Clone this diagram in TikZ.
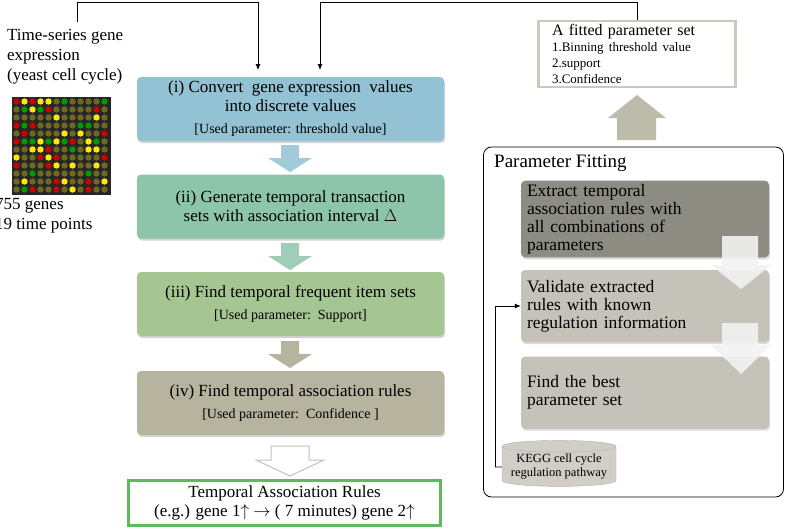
\documentclass[tikz,border=0pt]{standalone}
\usepackage{fontspec}
\setmainfont{Liberation Serif}
\usetikzlibrary{shapes.geometric,arrows.meta,shadows}
\definecolor{bi}{HTML}{92C2D3}
\definecolor{bii}{HTML}{8DC5AA}
\definecolor{biii}{HTML}{A5C693}
\definecolor{biv}{HTML}{B6B39E}
\definecolor{pd}{HTML}{8D8C82}
\definecolor{pl}{HTML}{C4C2B9}
\definecolor{fg}{HTML}{BDBBAA}
\begin{document}
\begin{tikzpicture}[x=1pt,y=-1pt,
  stepbox/.style={draw=none,rounded corners=4pt,minimum width=307pt,minimum height=64pt,align=center,font=\fontsize{17}{19}\selectfont,drop shadow={opacity=0.35,shadow xshift=1pt,shadow yshift=-2pt}},
  sub/.style={font=\fontsize{14}{16}\selectfont},
  pbox/.style={draw=none,rounded corners=4pt,minimum width=248pt,minimum height=72pt,align=left,text width=236pt,font=\fontsize{17.5}{18}\selectfont,drop shadow={opacity=0.3,shadow xshift=1pt,shadow yshift=-2pt}},
  conn/.style={draw,line width=0.8pt,-{Latex[length=6pt,width=5pt]}},
  lbl/.style={font=\fontsize{17}{20}\selectfont,align=left,anchor=north west,inner sep=0pt}]
\useasboundingbox (0,0) rectangle (785,531);
% left texts
\node[lbl] (src) at (7,29) {Time-series gene\\expression\\(yeast cell cycle)};
\fill[black!85] (12,97) rectangle (111,195);
\pgfmathsetseed{7}
\foreach \i in {0,...,11}{\foreach \j in {0,...,11}{
  \pgfmathrandominteger{\r}{0}{11}
  \ifnum\r<2 \def\cc{yellow!90!orange}\else\ifnum\r<3 \def\cc{green!60!black}\else\ifnum\r<4 \def\cc{red!80!black}\else\def\cc{olive!70!black}\fi\fi\fi
  \fill[\cc] (16.5+\i*8,101.5+\j*8) circle (3.2pt);}}
\node[lbl] (gn) at (-5,198) {755 genes\\19 time points};
% steps
\node[stepbox,fill=bi] (s1) at (290.5,109) {(i) Convert\ \ gene expression\ \ values\\into discrete values\\[3pt]{\fontsize{14}{16}\selectfont[Used parameter: threshold value]}};
\node[stepbox,fill=bii] (s2) at (290.5,206.5) {(ii) Generate temporal transaction\\sets with association interval $\Delta$};
\node[stepbox,fill=biii] (s3) at (290.5,304) {(iii) Find temporal frequent item sets\\[3pt]{\fontsize{14}{16}\selectfont[Used parameter:\ \ Support]}};
\node[stepbox,fill=biv] (s4) at (290.5,403) {(iv) Find temporal association rules\\[3pt]{\fontsize{14}{16}\selectfont[Used parameter:\ \ Confidence ]}};
% block arrows
\fill[bi!85!white] (281,145) -- (299,145) -- (299,158) -- (312,158) -- (290,172) -- (268,158) -- (281,158) -- cycle;
\fill[bii!85!white] (281,243) -- (299,243) -- (299,256) -- (312,256) -- (290,270) -- (268,256) -- (281,256) -- cycle;
\fill[biv] (281,341) -- (299,341) -- (299,354) -- (312,354) -- (290,368) -- (268,354) -- (281,354) -- cycle;
\draw[draw=pl,fill=white,line width=1pt] (271,446) -- (309,446) -- (309,460) -- (324,460) -- (290,476) -- (256,460) -- (271,460) -- cycle;
\node[draw=green!40!gray!90,line width=2.5pt,minimum width=312pt,minimum height=45pt,align=center,font=\fontsize{17}{19}\selectfont] (res) at (284.5,503) {Temporal Association Rules\\(e.g.) gene 1$\uparrow$ $\rightarrow$ ( 7 minutes) gene 2$\uparrow$};
% fitted set
\node[draw=fg!80!white,line width=2.5pt,minimum width=197pt,minimum height=66pt,text width=170pt,align=left,font=\fontsize{16}{16}\selectfont,inner sep=2pt] (fit) at (637,54) {A fitted parameter set\\{\fontsize{13}{16}\selectfont 1.Binning threshold value\\2.support\\3.Confidence}};
\fill[fg] (617,140) -- (656,140) -- (656,118) -- (666,118) -- (637,95) -- (608,118) -- (617,118) -- cycle;
% parameter fitting frame
\node[draw,rounded corners=8pt,line width=0.8pt,minimum width=300pt,minimum height=350pt] (pf) at (633.5,322) {};
\node[anchor=north west,inner sep=0pt,font=\fontsize{19}{21}\selectfont] (pft) at (494,155) {Parameter Fitting};
\node[pbox,fill=pd] (p1) at (645,219) {Extract temporal\\association rules with\\all combinations of\\parameters};
\node[pbox,fill=pl] (p2) at (645,306) {Validate extracted\\rules with known\\regulation information};
\node[pbox,fill=pl] (p3) at (645,392.5) {Find the best\\parameter set};
\fill[gray!10,opacity=0.9] (722,236) -- (758,236) -- (758,265) -- (771,265) -- (741,289) -- (711,265) -- (722,265) -- cycle;
\fill[gray!10,opacity=0.9] (722,323) -- (758,323) -- (758,345) -- (771,345) -- (741,374) -- (711,345) -- (722,345) -- cycle;
\node[cylinder,shape border rotate=90,aspect=0.12,draw=gray!60,fill=pl!80!white,minimum width=114pt,minimum height=46pt,align=center,font=\fontsize{12.5}{14}\selectfont,inner sep=1pt] (kegg) at (559,467) {KEGG cell cycle\\regulation pathway};
% connectors
\coordinate (k1) at (495,467);
\draw[line width=0.8pt] (kegg.west) -- (k1);
\draw[conn] (k1) |- (p2.west);
\coordinate (t0) at (77,22);
\coordinate (t1) at (77,2);
\coordinate (e1) at (258,70);
\draw[line width=0.8pt] (t0) -- (t1);
\draw[conn] (t1) -| (e1);
\coordinate (t2) at (320,2);
\coordinate (e2) at (320,70);
\draw[conn] (fit.north) |- (t2) -- (e2);
\end{tikzpicture}
\end{document}
